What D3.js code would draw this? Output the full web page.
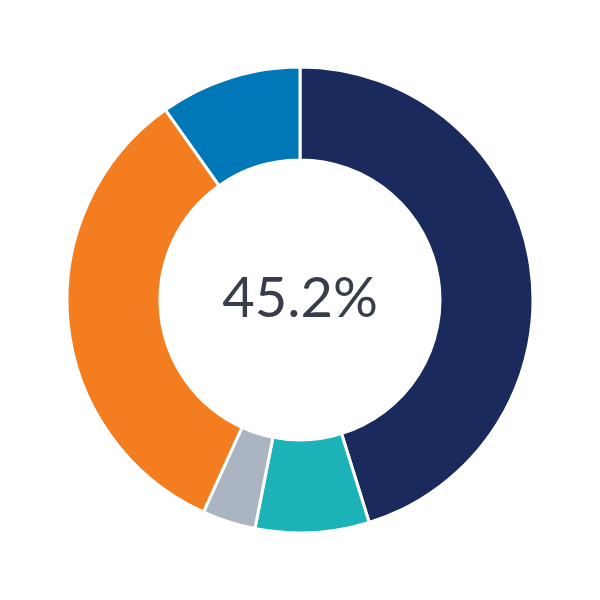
<!DOCTYPE html>
<html><head><meta charset="utf-8">
<script src="https://cdn.jsdelivr.net/npm/d3@7"></script>
<style>html,body{margin:0;padding:0;background:#fff;}</style>
</head><body>
<svg id="c" width="600" height="600"></svg>
<script>
const categories = ["A","B","C","D","E"];
const values = [45.2, 7.9, 3.7, 33.4, 9.8];
const colors = ["#1b2a5c","#1bb3b7","#aab4c3","#f47d20","#0077b6"];
const centerLabel = "45.2%";

const svg = d3.select("#c");
const g = svg.append("g").attr("transform","translate(300,300)");
const pie = d3.pie().sort(null).value(d=>d.v);
const arc = d3.arc().innerRadius(140).outerRadius(233);
const data = categories.map((c,i)=>({c, v: values[i], col: colors[i]}));
g.selectAll("path").data(pie(data)).join("path")
  .attr("d", arc)
  .attr("fill", d=>d.data.col)
  .attr("stroke","#fff")
  .attr("stroke-width",3);
g.append("text").attr("x",0).attr("y",17)
  .attr("text-anchor","middle")
  .attr("font-family","Lato, sans-serif")
  .attr("font-size",56)
  .attr("fill","#383e49")
  .text(centerLabel);
</script>
</body></html>
